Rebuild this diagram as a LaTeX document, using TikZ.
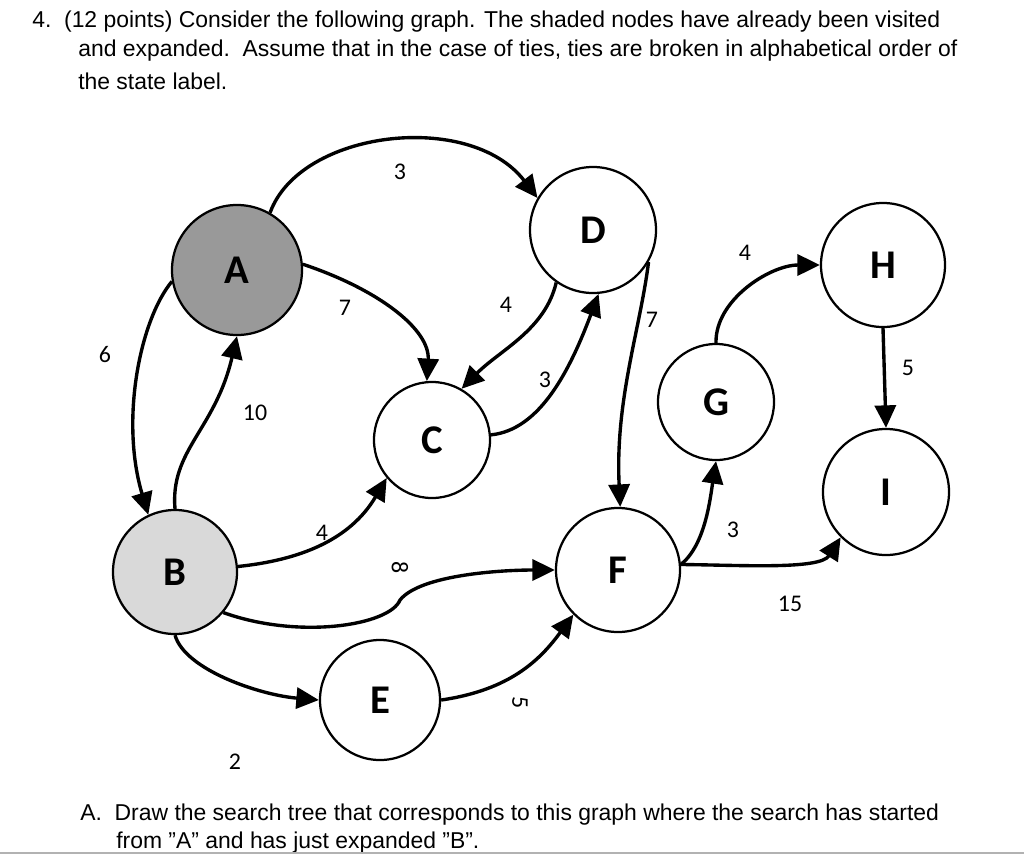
\documentclass[tikz,border=0pt]{standalone}
\usepackage{fontspec}
\setmainfont{Liberation Sans}
\newfontfamily\carl{Carlito}
\usetikzlibrary{arrows.meta}
\begin{document}
\begin{tikzpicture}[x=0.025cm,y=-0.025cm,
  st/.style={circle,draw,line width=1.6pt,minimum size=3cm,inner sep=0pt,font=\carl\bfseries\fontsize{29}{30}\selectfont},
  ed/.style={line width=2.4pt,-{Triangle[length=16pt,width=15pt]}},
  lb/.style={font=\carl\fontsize{17}{19}\selectfont},
  tx/.style={anchor=west,inner sep=0pt,font=\fontsize{16.3}{18}\selectfont}]
\useasboundingbox (0,0) rectangle (1024,856);
\fill[white] (0,0) rectangle (1024,856);
\node[tx] (t1) at (32,22) {4.\ \ (12 points) Consider the following graph. The shaded nodes have already been visited};
\node[tx] (t2) at (78,51) {and expanded.\ \ Assume that in the case of ties, ties are broken in alphabetical order of};
\node[tx] (t3) at (78,81) {the state label.};
\node[tx] (t4) at (80,815) {A.\ \ Draw the search tree that corresponds to this graph where the search has started};
\node[tx] (t5) at (116,843) {from \char34A\char34\ and has just expanded \char34B\char34.};
\draw[gray!60,line width=1pt] (0,853) -- (1024,853);

\node[st,fill=black!40,minimum size=3.25cm] (A) at (237,270) {A};
\node[st,fill=black!15,minimum size=3.1cm] (B) at (175,572) {B};
\node[st,minimum size=2.9cm] (C) at (432,440) {C};
\node[st,minimum size=3.15cm] (D) at (593,230) {D};
\node[st] (E) at (380,700) {E};
\node[st,minimum size=3.1cm] (F) at (618,570) {F};
\node[st,minimum size=2.9cm] (G) at (716,402) {G};
\node[st,minimum size=3.1cm] (H) at (883,265) {H};
\node[st,minimum size=3.15cm] (I) at (886,492) {I};

\draw[ed] (A.60) .. controls (300,130) and (470,110) .. (D.150);
\draw[ed] (A.5) .. controls (380,290) and (430,330) .. (C.95);
\draw[ed] (A.190) .. controls (140,320) and (120,420) .. (B.115);
\draw[ed] (B.90) .. controls (170,450) and (215,430) .. (A.270);
\draw[ed] (D.235) .. controls (545,330) and (500,350) .. (C.60);
\draw[ed] (C.5) .. controls (540,430) and (570,370) .. (D.275);
\draw[ed] (D.330) .. controls (640,330) and (615,400) .. (F.88);
\draw[ed] (B.5) .. controls (300,560) and (350,540) .. (C.220);
\draw[ed] (B.320) .. controls (300,640) and (390,625) .. (400,600) .. controls (420,575) and (500,570) .. (F.180);
\draw[ed] (B.270) .. controls (185,670) and (260,695) .. (E.180);
\draw[ed] (E.0) .. controls (510,690) and (540,660) .. (F.225);
\draw[ed] (F.5) .. controls (705,545) and (710,500) .. (G.270);
\draw[ed] (F.5) .. controls (740,565) and (820,570) .. (I.225);
\draw[ed] (G.90) .. controls (715,300) and (770,265) .. (H.180);
\draw[ed] (H.270) -- (I.90);

\node[lb] (l1) at (400,172) {3};
\node[lb] (l2) at (345,308) {7};
\node[lb] (l3) at (105,355) {6};
\node[lb] (l4) at (255,413) {10};
\node[lb] (l5) at (506,305) {4};
\node[lb] (l6) at (545,380) {3};
\node[lb] (l7) at (652,320) {7};
\node[lb] (l8) at (322,533) {4};
\node[lb,rotate=-90] (l9) at (400,568) {8};
\node[lb] (l10) at (235,762) {2};
\node[lb,rotate=-90] (l11) at (520,703) {5};
\node[lb] (l12) at (733,530) {3};
\node[lb] (l13) at (790,604) {15};
\node[lb] (l14) at (745,253) {4};
\node[lb] (l15) at (908,368) {5};
\end{tikzpicture}
\end{document}
